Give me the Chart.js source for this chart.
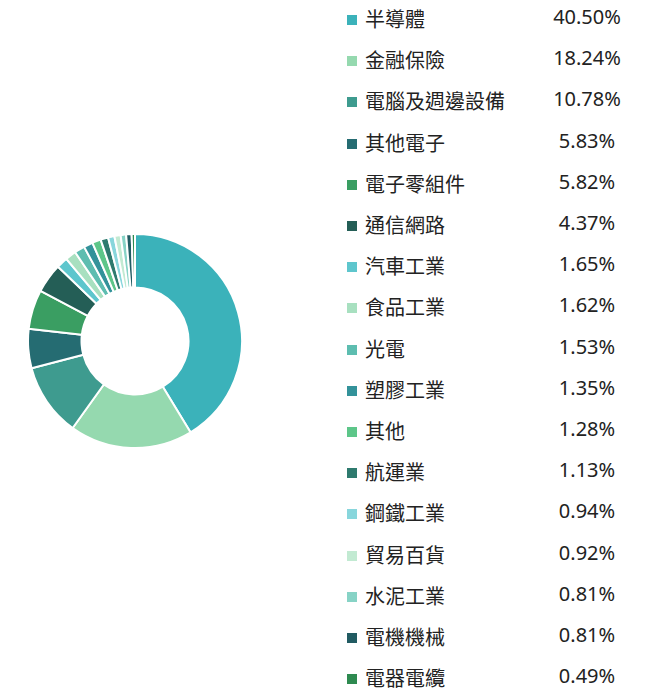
<!DOCTYPE html>
<html lang="zh-Hant">
<head>
<meta charset="utf-8">
<title>產業分布</title>
<script src="https://cdn.jsdelivr.net/npm/chart.js@4/dist/chart.umd.min.js"></script>
<style>
  html, body { margin: 0; padding: 0; background: #fff; }
  body { width: 648px; height: 699px; position: relative; overflow: hidden;
         font-family: "Noto Sans", "Noto Sans CJK TC", sans-serif; color: #222; }
  #chartBox { position: absolute; left: 27px; top: 233px; width: 216px; height: 216px; }
  .row { position: absolute; left: 347px; width: 300px; height: 30px; }
  .sw { position: absolute; left: 0; top: 10px; width: 10px; height: 10px; }
  .lbl { position: absolute; left: 18px; top: 0; line-height: 30px; font-size: 20px; white-space: nowrap; }
  .pct { position: absolute; left: 180px; width: 120px; top: -3px; line-height: 30px; font-size: 20px; text-align: center; }
</style>
</head>
<body>
<div id="chartBox"><canvas id="donut"></canvas></div>
<div id="legend"></div>

<script>
// sector weights (%) as shown in the legend
const sectors = ["半導體", "金融保險", "電腦及週邊設備", "其他電子", "電子零組件", "通信網路",
  "汽車工業", "食品工業", "光電", "塑膠工業", "其他", "航運業",
  "鋼鐵工業", "貿易百貨", "水泥工業", "電機機械", "電器電纜"];
const weights = [40.50, 18.24, 10.78, 5.83, 5.82, 4.37, 1.65, 1.62, 1.53, 1.35, 1.28, 1.13,
  0.94, 0.92, 0.81, 0.81, 0.49];
const colors = ["#3BB2BA", "#95D9AF", "#3E9B8F", "#256C72", "#3A9E62", "#245E56",
  "#5EC6CD", "#A8E0C0", "#5DBDB0", "#33929A", "#5DC689", "#2E7A6E",
  "#88D6DC", "#C2EAD2", "#87D3C6", "#215B62", "#2E8A50"];

// legend (html)
const legend = document.getElementById("legend");
sectors.forEach((name, i) => {
  const row = document.createElement("div");
  row.className = "row";
  row.style.top = (5 + i * 41.2) + "px";
  row.innerHTML =
    '<span class="sw" style="background:' + colors[i] + '"></span>' +
    '<span class="lbl">' + name + '</span>' +
    '<span class="pct">' + weights[i].toFixed(2) + '%</span>';
  legend.appendChild(row);
});

new Chart(document.getElementById("donut"), {
  type: "doughnut",
  data: {
    labels: sectors,
    datasets: [
      {
        data: weights,
        backgroundColor: colors,
        borderColor: "#fff",
        borderWidth: 2,
      },
    ],
  },
  options: {
    responsive: true,
    maintainAspectRatio: false,
    animation: false,
    cutout: "50%",
    layout: { padding: 0 },
    plugins: {
      legend: { display: false },
      tooltip: { enabled: false },
    },
  },
});
</script>
</body>
</html>
